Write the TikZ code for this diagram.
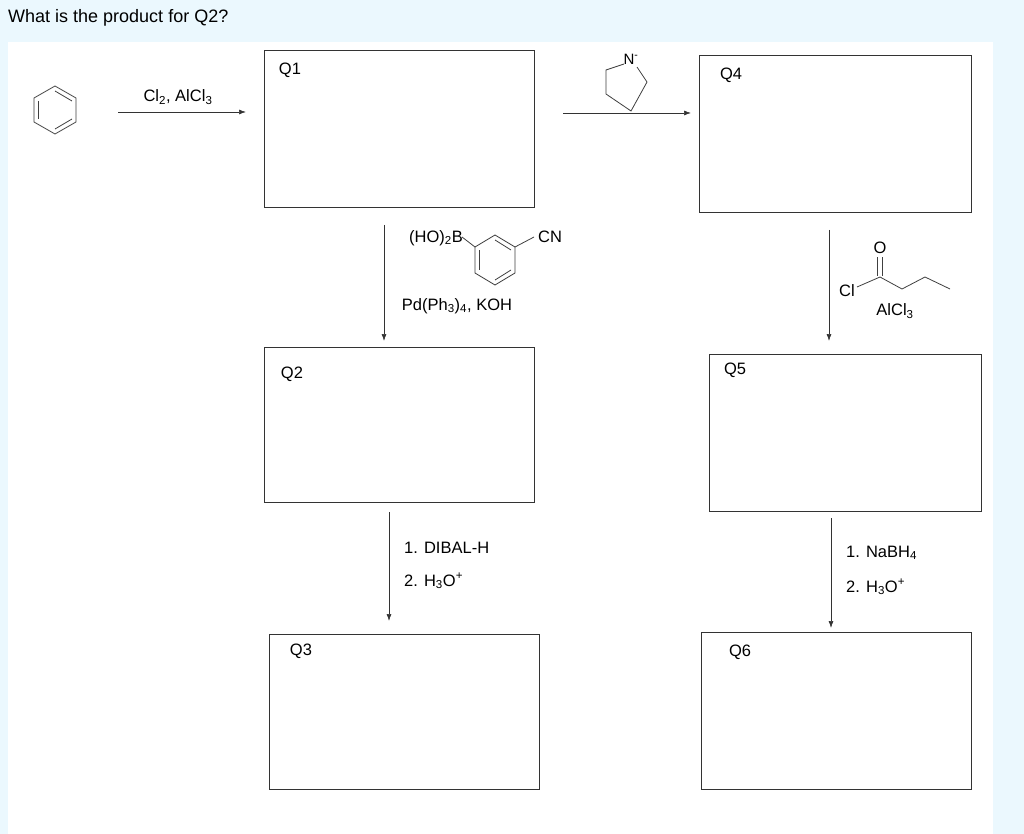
\documentclass[tikz,border=0pt]{standalone}
\usepackage{fontspec}
\setmainfont{Liberation Sans}
\usetikzlibrary{arrows.meta}
\begin{document}
\begin{tikzpicture}[x=1pt,y=-1pt,
 qbox/.style={draw=black!80,line width=0.8pt},
 lbl/.style={font=\fontsize{16.5}{18}\selectfont,inner sep=0pt},
 rx/.style={-{Latex[length=7pt,width=5pt]},line width=0.7pt,black!80},
 bond/.style={line width=0.8pt,black!75}]
\fill[cyan!8] (0,0) rectangle (1024,834);
\fill[white] (8,42) rectangle (993,834);
\useasboundingbox (0,0) rectangle (1024,834);
\node[anchor=west,font=\fontsize{18}{20}\selectfont,inner sep=0pt] (title) at (8,18) {What is the product for Q2?};
% boxes
\draw[qbox] (264,50) rectangle (534,207);
\node[lbl] (Q1) at (290,70) {Q1};
\draw[qbox] (699,55) rectangle (971,212);
\node[lbl] (Q4) at (731,75) {Q4};
\draw[qbox] (264,347) rectangle (534,502);
\node[lbl] (Q2) at (292,374) {Q2};
\draw[qbox] (709,354) rectangle (981,511);
\node[lbl] (Q5) at (735,370) {Q5};
\draw[qbox] (269,634) rectangle (539,789);
\node[lbl] (Q3) at (301,651) {Q3};
\draw[qbox] (701,632) rectangle (971,789);
\node[lbl] (Q6) at (740,652) {Q6};
% benzene
\draw[bond] (55,86) -- (76,98) -- (76,122) -- (55,134) -- (34,122) -- (34,98) -- cycle;
\draw[bond] (55,91) -- (72,101); \draw[bond] (72,119) -- (55,129); \draw[bond] (38,119) -- (38,101);
% arrows
\coordinate (a1s) at (118,112); \coordinate (a1e) at (246,112);
\draw[rx] (a1s) -- (a1e);
\node[lbl] (r1) at (178,97) {Cl\textsubscript{2}, AlCl\textsubscript{3}};
\coordinate (a2s) at (563,113); \coordinate (a2e) at (691,113);
\draw[rx] (a2s) -- (a2e);
\node[lbl,font=\fontsize{15}{16}\selectfont] (N) at (631,59) {N\textsuperscript{-}};
\draw[bond] (624,64) -- (606,70) -- (606,94) -- (631,111) -- (647,82) -- (637,67);
\coordinate (a3s) at (384,225); \coordinate (a3e) at (384,341);
\draw[rx] (a3s) -- (a3e);
\node[lbl,anchor=east] (hob) at (463,238) {(HO)\textsubscript{2}B};
\draw[bond] (495,235) -- (515,247) -- (515,273) -- (495,285) -- (475,273) -- (475,247) -- cycle;
\draw[bond] (479,250) -- (479,270); \draw[bond] (495,280) -- (511,270); \draw[bond] (495,240) -- (511,250);
\draw[bond] (462,237) -- (475,247);
\draw[bond] (515,247) -- (534,237);
\node[lbl] (cn) at (550,237) {CN};
\node[lbl] (pd) at (457,306) {Pd(Ph\textsubscript{3})\textsubscript{4}, KOH};
\coordinate (a4s) at (829,230); \coordinate (a4e) at (829,341);
\draw[rx] (a4s) -- (a4e);
\node[lbl] (O) at (880,248) {O};
\node[lbl] (Cl) at (847,291) {Cl};
\draw[bond] (877,257) -- (877,276); \draw[bond] (882,257) -- (882,276);
\draw[bond] (857,287) -- (880,277) -- (902,289) -- (925,277) -- (950,289);
\node[lbl] (al) at (895,311) {AlCl\textsubscript{3}};
\coordinate (a5s) at (389,512); \coordinate (a5e) at (389,621);
\draw[rx] (a5s) -- (a5e);
\node[lbl,anchor=west] (d1) at (404,548) {1. DIBAL-H};
\node[lbl,anchor=west] (d2) at (404,581) {2. H\textsubscript{3}O\textsuperscript{+}};
\coordinate (a6s) at (831,518); \coordinate (a6e) at (831,628);
\draw[rx] (a6s) -- (a6e);
\node[lbl,anchor=west] (n1) at (846,553) {1. NaBH\textsubscript{4}};
\node[lbl,anchor=west] (n2) at (846,587) {2. H\textsubscript{3}O\textsuperscript{+}};
\end{tikzpicture}
\end{document}
